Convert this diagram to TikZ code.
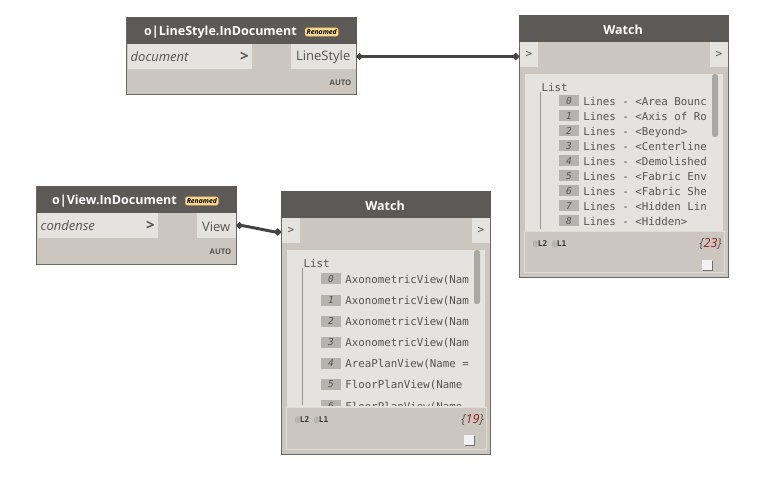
\documentclass[tikz,border=0pt]{standalone}
\usepackage{fontspec}
\setmainfont{Open Sans}
\newfontfamily\listfont{DejaVu Sans Mono}
\usetikzlibrary{positioning,arrows.meta,shadows}
\definecolor{headcol}{HTML}{5C5A56}
\definecolor{bodycol}{HTML}{CBC6BF}
\definecolor{portcol}{HTML}{E4E3DF}
\definecolor{edgecol}{HTML}{6A6863}
\definecolor{wirecol}{HTML}{444442}
\definecolor{inkcol}{HTML}{555450}
\definecolor{idxcol}{HTML}{B4B3AE}
\definecolor{scrollcol}{HTML}{A9A8A3}
\definecolor{badgecol}{HTML}{FBD98E}
\definecolor{countcol}{HTML}{9B1C1C}
\tikzset{
  basic/.style = {inner sep=0pt, outer sep=0pt, anchor=north west},
  nodebody/.style = {basic, draw=edgecol, fill=bodycol},
  header/.style = {basic, fill=headcol},
  title/.style = {inner sep=0pt, text=white, font=\fontsize{12.5}{14}\selectfont\bfseries},
  badge/.style = {rounded corners=2pt, draw=orange!60, fill=badgecol, inner sep=1.5pt, font=\fontsize{6.8}{7}\selectfont\bfseries\itshape},
  portin/.style = {basic, fill=portcol, minimum height=25pt, text=inkcol, align=left},
  watchport/.style = {basic, fill=portcol, minimum width=18pt, minimum height=25pt, text=inkcol, font=\listfont\fontsize{11}{12}\selectfont},
  portlabel/.style = {inner sep=0pt, text=inkcol, font=\fontsize{13}{15}\selectfont},
  portname/.style = {portlabel, anchor=west, font=\fontsize{13}{15}\selectfont\itshape},
  chevron/.style = {portlabel, font=\fontsize{15}{15}\selectfont\bfseries},
  autolabel/.style = {inner sep=0pt, text=inkcol, font=\fontsize{7.7}{9}\selectfont\bfseries},
  panel/.style = {basic, fill=portcol, minimum width=198pt, minimum height=157pt},
  footer/.style = {basic, draw=portcol!80!bodycol, minimum width=200pt, minimum height=41pt},
  scrollbar/.style = {basic, rounded corners=2.5pt, fill=scrollcol, minimum width=6pt},
  listhead/.style = {inner sep=0pt, text=inkcol, font=\listfont\fontsize{10.8}{12}\selectfont},
  idx/.style = {inner sep=0pt, fill=idxcol, minimum width=20pt, minimum height=11pt, text=inkcol, font=\listfont\fontsize{9.5}{10}\selectfont\itshape},
  row/.style = {inner sep=0pt, anchor=west, text height=10pt, text depth=1pt, text=inkcol, font=\listfont\fontsize{10.8}{12}\selectfont},
  levels/.style = {inner sep=0pt, text=black!80, font=\listfont\fontsize{7.9}{9}\selectfont\bfseries},
  count/.style = {inner sep=0pt, text=inkcol, font=\fontsize{12.5}{14}\selectfont\itshape},
  checkbox/.style = {basic, fill=white!95!black, minimum size=10pt, drop shadow={shadow xshift=.8pt, shadow yshift=-.8pt, fill=black!55, opacity=1}},
  wire/.style = {draw=wirecol, line width=3pt, {Circle[length=6pt]}-{Circle[length=6.5pt]}}
}

\begin{document}
\begin{tikzpicture}[x=1pt,y=-1pt,xshift=-.5pt]
\useasboundingbox (.5,0) rectangle (764.5,494);

\node[nodebody, minimum width=230pt, minimum height=77pt] (linestyle) at (127,17) {};
\node[header, minimum width=230pt, minimum height=27pt] (linestyle_head) at (127,17) {};
\node[title] (linestyle_title) at (221,32) {o|LineStyle.InDocument};
\node[badge, right=8pt of linestyle_title] (linestyle_badge) {Renamed};
\node[portin, minimum width=124pt] (document) at (128,44) {};
\node[portname] (document_label) at (131,57) {document};
\node[chevron] (document_arrow) at (245,56.5) {>};
\node[portin, minimum width=65pt] (linestyle_out) at (291,44) {};
\node[portlabel, anchor=east] (linestyle_label) at (351,57.5) {LineStyle};
\node[autolabel, anchor=east] (linestyle_auto) at (352,83) {AUTO};

\node[nodebody, minimum width=200pt, minimum height=78pt] (view) at (37,186) {};
\node[header, minimum width=200pt, minimum height=27pt] (view_head) at (37,186) {};
\node[title] (view_title) at (115,201) {o|View.InDocument};
\node[badge, right=8pt of view_title] (view_badge) {Renamed};
\node[portin, minimum width=120pt] (condense) at (38,213) {};
\node[portname] (condense_label) at (41,226) {condense};
\node[chevron] (condense_arrow) at (151,225.5) {>};
\node[portin, minimum width=39pt] (view_out) at (197,213) {};
\node[portlabel, anchor=east] (view_label) at (231,226.5) {View};
\node[autolabel, anchor=east] (view_auto) at (232,252) {AUTO};

\node[nodebody, minimum width=209.5pt, minimum height=262pt] (watcha) at (519.5,15) {};
\node[header, minimum width=209.5pt, minimum height=27pt] (watcha_head) at (519.5,15) {};
\node[title] (watcha_title) at (623.5,30) {Watch};
\node[watchport] (watcha_in) at (520.5,42) {>};
\node[watchport] (watcha_out) at (710.5,42) {>};
\node[panel] (watcha_panel) at (525.5,74) {};
\node[scrollbar, minimum height=63pt] (watcha_scroll) at (712.5,74) {};
\node[listhead, anchor=west] (watcha_list) at (542,87) {List};
\draw[edgecol!70] (watcha_list.south west) ++(-1,1) coordinate (watcha_top) -- (watcha_top |- 0,229) coordinate (watcha_end);
\begin{scope}
\clip (525,74) rectangle (706.5,231);
\foreach \n/\t [count=\i from 0] in {0/Lines - <Area Bounc,1/Lines - <Axis of Ro,2/Lines - <Beyond>,3/Lines - <Centerline,4/Lines - <Demolished,5/Lines - <Fabric Env,6/Lines - <Fabric She,7/Lines - <Hidden Lin,8/Lines - <Hidden>}{
  \node[idx] (watcha_idx\n) at (569.5,101+15*\i) {\n};
  \node[row, right=4pt of watcha_idx\n] (watcha_row\n) {\t};
}
\end{scope}
\node[footer] (watcha_foot) at (524.5,231) {};
\node[levels, anchor=west] (watcha_levels) at (533.5,244) {{\color{black!35}@}L2 {\color{black!35}@}L1};
\node[count, anchor=east] (watcha_count) at (722.5,244) {\{{\color{countcol}23}\}};
\node[checkbox] (watcha_check) at (702.5,260) {};

\node[nodebody, minimum width=209.5pt, minimum height=263pt] (watchb) at (281.5,191) {};
\node[header, minimum width=209.5pt, minimum height=27pt] (watchb_head) at (281.5,191) {};
\node[title] (watchb_title) at (385.5,206) {Watch};
\node[watchport] (watchb_in) at (282.5,218) {>};
\node[watchport] (watchb_out) at (472.5,218) {>};
\node[panel] (watchb_panel) at (287.5,250) {};
\node[scrollbar, minimum height=54pt] (watchb_scroll) at (474.5,250) {};
\node[listhead, anchor=west] (watchb_list) at (304,263) {List};
\draw[edgecol!70] (watchb_list.south west) ++(-1,1) coordinate (watchb_top) -- (watchb_top |- 0,405) coordinate (watchb_end);
\begin{scope}
\clip (287,250) rectangle (470.5,406);
\foreach \n/\t [count=\i from 0] in {0/AxonometricView(Nam,1/AxonometricView(Nam,2/AxonometricView(Nam,3/AxonometricView(Nam,4/AreaPlanView(Name =,5/FloorPlanView(Name,6/FloorPlanView(Name}{
  \node[idx] (watchb_idx\n) at (331.5,279+21.1*\i) {\n};
  \node[row, right=4pt of watchb_idx\n] (watchb_row\n) {\t};
}
\end{scope}
\node[footer, minimum height=42pt] (watchb_foot) at (286.5,407) {};
\node[levels, anchor=west] (watchb_levels) at (295.5,420) {{\color{black!35}@}L2 {\color{black!35}@}L1};
\node[count, anchor=east] (watchb_count) at (484.5,420) {\{{\color{countcol}19}\}};
\node[checkbox] (watchb_check) at (464.5,435) {};

\draw[wire] (linestyle.east |- linestyle_out.east) to[out=0, in=180, looseness=.3] ([yshift=-2pt]watcha.west |- watcha_in.west);
\draw[wire] (view.east |- view_out.east) to[out=0, in=180, looseness=.4] ([yshift=-1.5pt]watchb.west |- watchb_in.west);
\end{tikzpicture}
\end{document}
